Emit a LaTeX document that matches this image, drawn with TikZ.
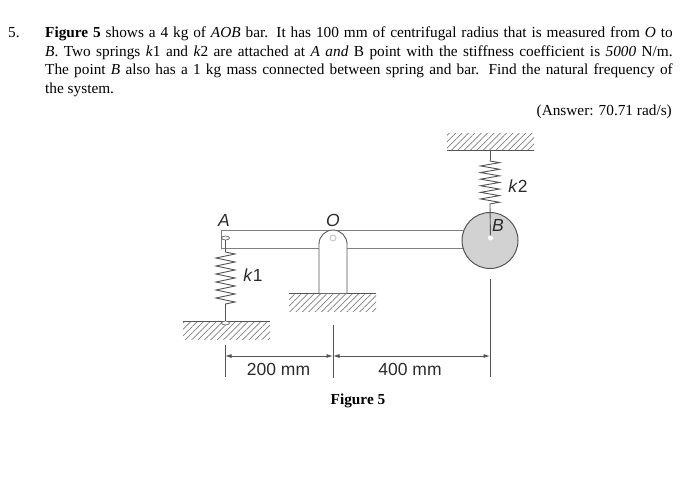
\documentclass[tikz,border=0pt]{standalone}
\usepackage{fontspec}
\setmainfont{Liberation Serif}
\newfontfamily\labelfont{Liberation Sans}
\usetikzlibrary{arrows.meta,shapes,patterns.meta,decorations.pathmorphing}

\definecolor{linegray}{HTML}{555555}
\definecolor{inkgray}{HTML}{2A2A2A}

\begin{document}
\begin{tikzpicture}[>={Latex[length=6.5pt,width=4pt]},x=1pt,y=-1pt]
 \tikzstyle{ground}=[pattern={Lines[angle=45,distance=4.5pt,line width=.7pt]},pattern color=gray]
 \tikzstyle{springA}=[draw=linegray,line width=.9pt,decorate,decoration={zigzag,amplitude=9.5pt,segment length=8pt,pre length=1pt,post length=1pt}]
 \tikzstyle{springB}=[draw=linegray,line width=.9pt,decorate,decoration={zigzag,amplitude=9.5pt,segment length=6.6pt,pre length=1pt,post length=1pt}]
 \tikzstyle{wire}=[draw=linegray,line width=.9pt]
 \tikzstyle{barline}=[draw=gray,line width=1pt]
 \tikzstyle{dim}=[draw=linegray,line width=.8pt]
 \tikzstyle{mechlabel}=[inner sep=0pt,text=inkgray,font=\labelfont\fontsize{17.5}{17.5}\selectfont]
 \tikzstyle{pin}=[draw=linegray,fill=white,ellipse,inner sep=0pt,minimum width=8pt,minimum height=4pt,line width=.6pt]
 \useasboundingbox (0,0) rectangle (700,487);

 % question text
 \node (number) at (8,33) [anchor=west,inner sep=0pt,font=\fontsize{15.3}{18}\selectfont] {5.};
 \node (question) at (45,27) [anchor=north west,inner sep=0pt,text width=627.5pt,align=justify,font=\fontsize{15.3}{18.4}\selectfont]
  {\textbf{Figure 5} shows a 4 kg of \textit{AOB} bar. It has 100 mm of centrifugal radius that is measured from \textit{O} to\linebreak
   \textit{B}. Two springs \textit{k}1 and \textit{k}2 are attached at \textit{A and} B point with the stiffness coefficient is \textit{5000} N/m.\linebreak
   The point \textit{B} also has a 1 kg mass connected between spring and bar. Find the natural frequency of\linebreak
   the system.};
 \node (answer) at (672,112) [anchor=east,inner sep=0pt,font=\fontsize{15.3}{18}\selectfont] {(Answer: 70.71 rad/s)};

 % grounds
 \fill [ground] (183,321) rectangle (270,339);
 \fill [ground] (289,293) rectangle (376,311);
 \fill [ground] (447,133) rectangle (534,150);
 \coordinate (groundAl) at (183,321);
 \coordinate (groundAr) at (270,321);
 \coordinate (groundOl) at (289,293);
 \coordinate (groundOr) at (376,293);
 \coordinate (groundBl) at (447,150);
 \coordinate (groundBr) at (534,150);
 \draw [wire] (groundAl) -- (groundAr);
 \draw [wire] (groundOl) -- (groundOr);
 \draw [wire] (groundBl) -- (groundBr);

 % bar, support and mass
 \node (bar) at (342,239) [barline,minimum width=242pt,minimum height=18pt,inner sep=0pt] {};
 \draw [wire,fill=white] (319,293) -- (319,244) arc[start angle=180,end angle=0,x radius=14,y radius=-14] -- (347,293);
 \node (holeO) at (333,238) [circle,draw=gray!50,fill=white,line width=.8pt,minimum size=6pt,inner sep=0pt] {};
 \node (massB) at (490,240.5) [circle,draw=linegray,fill=gray!35,line width=1pt,minimum size=56pt,inner sep=0pt] {};
 \node (holeB) at (490.5,238) [circle,fill=white,minimum size=5pt,inner sep=0pt] {};

 % springs
 \coordinate (topA) at (225.5,251);
 \coordinate (botA) at (225.5,308);
 \coordinate (topB) at (490,160);
 \coordinate (botB) at (490,206);
 \coordinate (ceilB) at (490,150);
 \node (pinAtop) at (225.5,238) [pin] {};
 \node (pinAbot) at (225.5,323) [pin] {};
 \draw [wire] (pinAtop) -- (topA);
 \draw [springA] (topA) -- (botA);
 \draw [wire] (botA) -- (pinAbot);
 \draw [wire] (ceilB) -- (topB);
 \draw [springB] (topB) -- (botB);
 \draw [wire] (botB) -- (holeB);

 % labels
 \node (labelA) at (224,220.5) [mechlabel] {\textit{A}};
 \node (labelO) at (333,220.5) [mechlabel] {\textit{O}};
 \node (labelB) at (498,225) [mechlabel] {\textit{B}};
 \node (labelkone) at (253,275) [mechlabel] {\textit{k}1};
 \node (labelktwo) at (518,186) [mechlabel] {\textit{k}2};

 % dimensions
 \coordinate (tickAt) at (225,345);
 \coordinate (tickAb) at (225,377);
 \coordinate (tickOt) at (333,325);
 \coordinate (tickOb) at (333,378);
 \coordinate (tickBt) at (490,279);
 \coordinate (tickBb) at (490,377);
 \draw [dim] (tickAt) -- (tickAb);
 \draw [dim] (tickOt) -- (tickOb);
 \draw [dim] (tickBt) -- (tickBb);
 \coordinate (dimA) at (225,356);
 \coordinate (dimO) at (333,356);
 \coordinate (dimB) at (490,356);
 \draw [dim,<->] (dimA) -- (dimO);
 \draw [dim,<->] (dimO) -- (dimB);
 \node (dimone) at (278.5,369) [mechlabel] {200 mm};
 \node (dimtwo) at (410,369) [mechlabel] {400 mm};
 \node (caption) at (358,400.5) [inner sep=0pt,font=\bfseries\fontsize{15.3}{18}\selectfont] {Figure 5};
\end{tikzpicture}
\end{document}
